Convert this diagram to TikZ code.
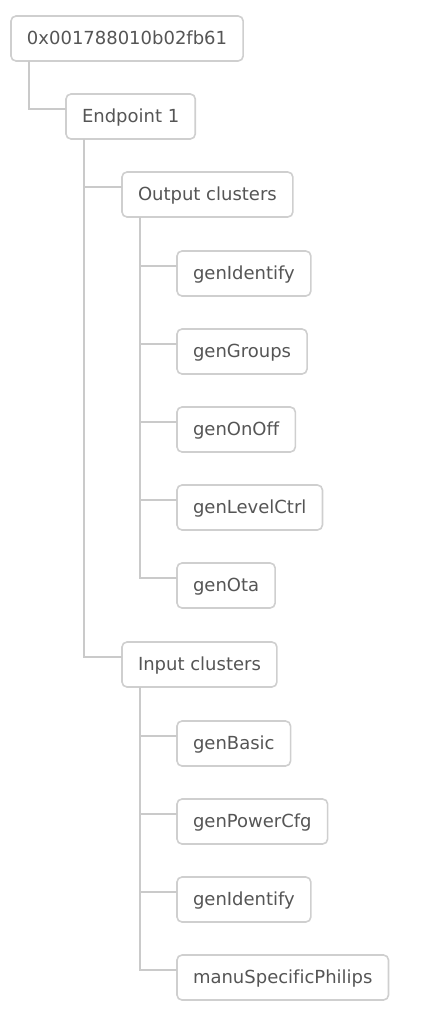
\documentclass[tikz,border=0pt]{standalone}
\usepackage{fontspec}
\setmainfont{DejaVu Sans}[Ligatures=NoCommon]
\usepackage{tikz}
\usetikzlibrary{positioning}

\definecolor{boxline}{HTML}{CFCFCF}
\definecolor{treeline}{HTML}{CACACA}
\definecolor{labeltext}{HTML}{555555}

\begin{document}
\begin{tikzpicture}[
  box/.style={draw=boxline,line width=1.6pt,rounded corners=5pt,fill=white,
    minimum height=45pt,inner xsep=16pt,inner ysep=0pt,outer sep=0pt,
    text height=16pt,text depth=4pt,text=labeltext,
    font=\fontsize{18}{20}\selectfont},
  link/.style={draw=treeline,line width=1.8pt},
  node distance=33pt]
\useasboundingbox (0,0) rectangle (424pt,-1030pt);

\node[box,anchor=north west] (root) at (11pt,-16pt) {0x001788010b02fb61};
\node[box,below right=33pt and 55pt of root.south west] (ep) {Endpoint 1};
\node[box,below right=33pt and 56pt of ep.south west] (oc) {Output clusters};

% output clusters
\node[box,below right=34pt and 55pt of oc.south west] (oident) {genIdentify};
\node[box,below right=33pt and 0pt of oident.south west] (ogroups) {genGroups};
\node[box,below right=33pt and 0pt of ogroups.south west] (oonoff) {genOnOff};
\node[box,below right=33pt and 0pt of oonoff.south west] (olevel) {genLevelCtrl};
\node[box,below right=33pt and 0pt of olevel.south west] (oota) {genOta};

% input clusters
\node[box,below right=34pt and -55pt of oota.south west] (ic) {Input clusters};
\node[box,below right=34pt and 55pt of ic.south west] (ibasic) {genBasic};
\node[box,below right=33pt and 0pt of ibasic.south west] (ipower) {genPowerCfg};
\node[box,below right=33pt and 0pt of ipower.south west] (iident) {genIdentify};
\node[box,below right=33pt and 0pt of iident.south west] (iphilips) {manuSpecificPhilips};

\path[link] ([xshift=18pt]root.south west) |- ([yshift=7.5pt]ep.west);
\path[link] ([xshift=18pt]ep.south west) |- ([yshift=7.5pt]oc.west);
\path[link] ([xshift=18pt]ep.south west) |- ([yshift=7.5pt]ic.west);
\foreach \n in {oident,ogroups,oonoff,olevel,oota}
  \path[link] ([xshift=18pt]oc.south west) |- ([yshift=7.5pt]\n.west);
\foreach \n in {ibasic,ipower,iident,iphilips}
  \path[link] ([xshift=18pt]ic.south west) |- ([yshift=7.5pt]\n.west);
\end{tikzpicture}
\end{document}
